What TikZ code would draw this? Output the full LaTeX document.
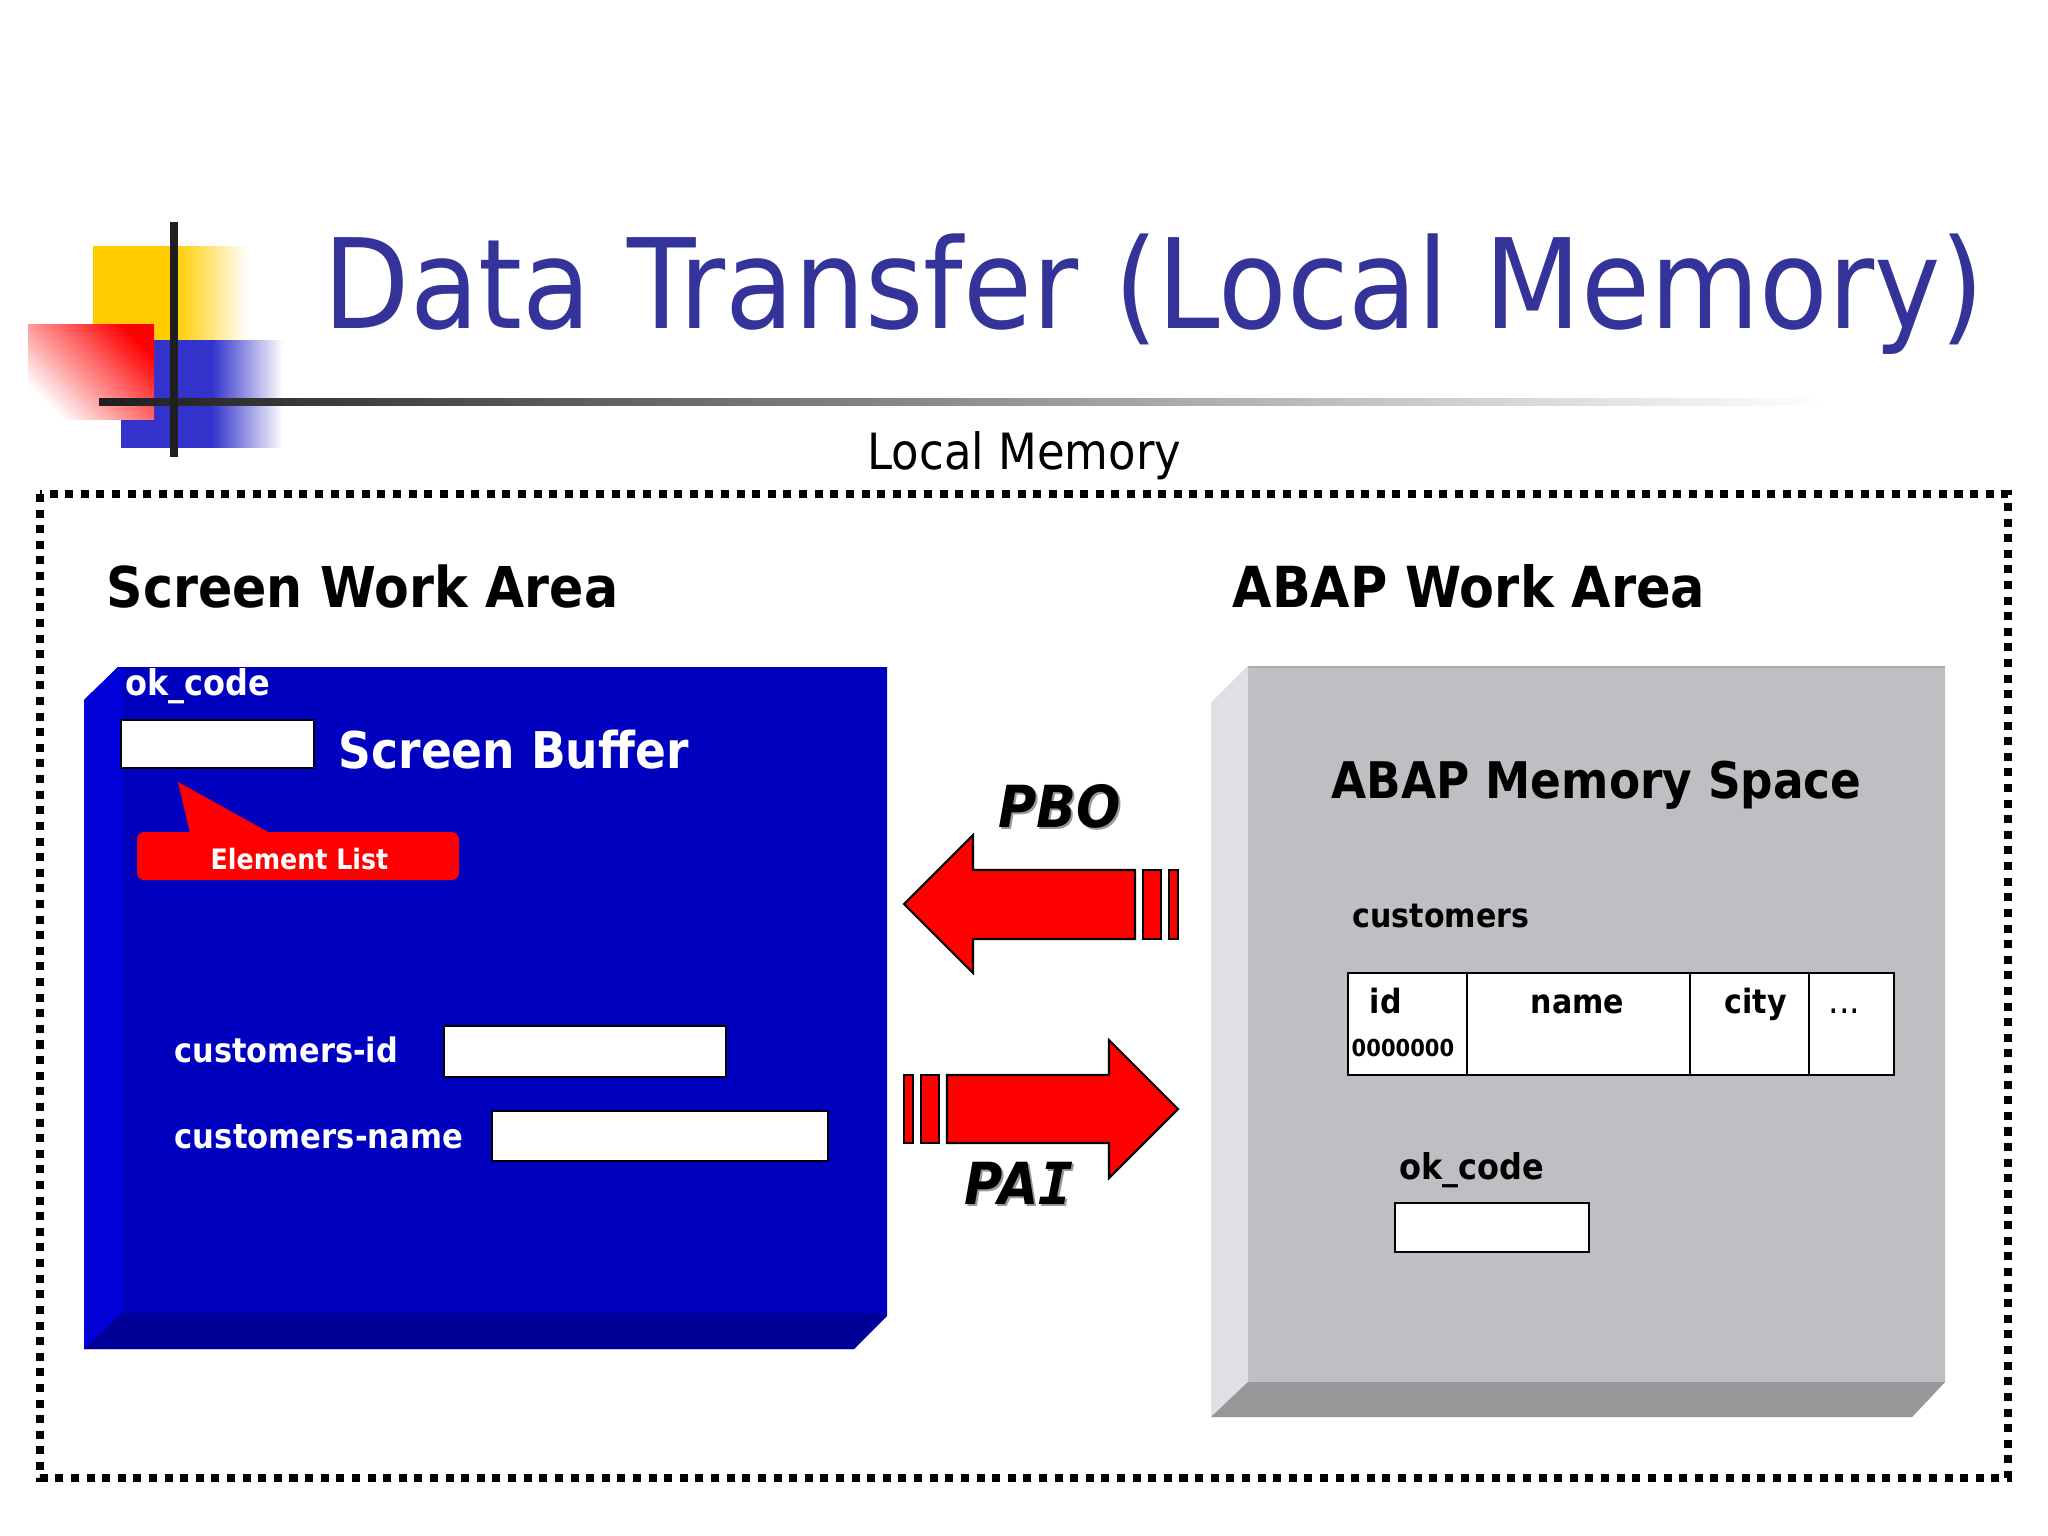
\documentclass[tikz,border=0pt]{standalone}
\usepackage{fontspec}
\setmainfont{DejaVu Sans}[FakeStretch=0.9]
\newfontfamily\serifmono{DejaVu Sans Mono}
\newcommand{\fsz}[1]{\fontsize{#1}{#1}\selectfont}
\definecolor{titleblue}{HTML}{333399}
\definecolor{logoblue}{HTML}{3333CC}
\definecolor{logoyellow}{HTML}{FFCC00}
\definecolor{bluefront}{HTML}{0000BF}
\definecolor{blueleft}{HTML}{0000D9}
\definecolor{bluebottom}{HTML}{000099}
\definecolor{greyfront}{HTML}{C0BEC2}
\definecolor{greyleft}{HTML}{E1DFE3}
\definecolor{greybottom}{HTML}{989699}
\pgfdeclarehorizontalshading{yellowfade}{100bp}{color(0bp)=(logoyellow); color(51.5bp)=(logoyellow); color(75bp)=(white); color(100bp)=(white)}
\pgfdeclarehorizontalshading{bluefade}{100bp}{color(0bp)=(logoblue); color(53bp)=(logoblue); color(75bp)=(white); color(100bp)=(white)}
\tikzset{
    txt/.style={anchor=base west,inner sep=0pt,font=\bfseries\fsz{#1}},
    plaintxt/.style={anchor=base west,inner sep=0pt,font=\fsz{#1}},
    field/.style={draw=black,fill=white,line width=0.8pt},
    redarrow/.style={draw=black,fill=red,line width=0.6pt,line join=miter},
    bigtxt/.style={anchor=base west,inner sep=0pt,font=\bfseries\itshape\fsz{16.5}},
}

\begin{document}
\begin{tikzpicture}[x=0.01cm,y=-0.01cm]
    \useasboundingbox (0,0) rectangle (2048,1536);
    % logo
    \shade[shading=yellowfade] (93,246) rectangle (248,340);
    \shade[shading=bluefade] (121,340) rectangle (283,447);
    \fill[top color=red,bottom color=white,shading angle=-45] (28,324) rectangle (154,419);
    \fill[left color=black!88,right color=white] (99,398.5) rectangle (1825,405.5);
    \fill[black!88] (170,222) rectangle (178,457);
    \node[plaintxt=35.45,text=titleblue] (title) at (323,328) {Data Transfer (Local Memory)};
    \node[plaintxt=14.2] (local) at (867,469) {Local Memory};
    \draw[line width=2.28pt,dash pattern=on 2.28pt off 2.16pt] (40,494) rectangle (2008,1478);
    \node[txt=16] (screenarea) at (106,607) {Screen Work Area};
    \node[txt=16.1] (abaparea) at (1232,607) {ABAP Work Area};
    % screen side
    \fill[bluefront] (118,667) -- (887,667) -- (887,1316) -- (854,1349) -- (84,1349) -- (84,700) -- cycle;
    \fill[blueleft] (118,667) -- (122,667) -- (122,1316) -- (84,1349) -- (84,700) -- cycle;
    \fill[bluebottom] (122,1313) -- (887,1313) -- (854,1349) -- (84,1349) -- cycle;
    \node[txt=10.1,text=white] (okblue) at (125,695) {ok\_code};
    \draw[field] (121,720) rectangle (314,768);
    \node[txt=14.4,text=white] (buffer) at (338,768) {Screen Buffer};
    \fill[red,rounded corners=2pt] (137,832) rectangle (459,880);
    \fill[red] (178,782) -- (190,833) -- (270,833) -- cycle;
    \node[txt=8,text=white] (elements) at (210,869) {Element List};
    \node[txt=9.6,text=white] (custid) at (174,1062) {customers-id};
    \draw[field] (444,1026) rectangle (726,1077);
    \node[txt=9.7,text=white] (custname) at (174,1148) {customers-name};
    \draw[field] (492,1111) rectangle (828,1161);
    % arrows
    \draw[redarrow] (904,904) -- (973,835) -- (973,870) -- (1135,870) -- (1135,939) -- (973,939) -- (973,973) -- cycle;
    \draw[redarrow] (1143,870) rectangle (1161,939);
    \draw[redarrow] (1169,870) rectangle (1178,939);
    \draw[redarrow] (1178,1109) -- (1109,1040) -- (1109,1075) -- (947,1075) -- (947,1143) -- (1109,1143) -- (1109,1178) -- cycle;
    \draw[redarrow] (921,1075) rectangle (939,1143);
    \draw[redarrow] (904,1075) rectangle (913,1143);
    \node[bigtxt,text=black!40] (pboshadow) at (1000,829) {PBO};
    \node[bigtxt,text=black!40] (paishadow) at (966,1206) {PA{\serifmono I}};
    \node[bigtxt] (pbo) at (998,827) {PBO};
    \node[bigtxt] (pai) at (964,1204) {PA{\serifmono I}};
    % abap side
    \fill[greyfront] (1248,666) -- (1945,666) -- (1945,1382) -- (1912,1417) -- (1211,1417) -- (1211,703) -- cycle;
    \fill[greyleft] (1248,666) -- (1248,1382) -- (1211,1417) -- (1211,703) -- cycle;
    \fill[greybottom] (1248,1382) -- (1945,1382) -- (1912,1417) -- (1211,1417) -- cycle;
    \fill[black!32] (1248,665.5) rectangle (1945,668);
    \node[txt=14.35] (space) at (1331,798) {ABAP Memory Space};
    \node[txt=9.5] (custlabel) at (1352,927) {customers};
    \foreach \xa/\xb in {1348/1467,1467/1690,1690/1809,1809/1894}
        \draw[field] (\xa,973) rectangle (\xb,1075);
    \node[txt=9.5] (idcol) at (1369,1013) {id};
    \node[txt=9.5] (namecol) at (1530,1013) {name};
    \node[txt=9.5] (citycol) at (1724,1013) {city};
    \node[plaintxt=10.5] (morecol) at (1828,1013) {...};
    \node[txt=6.65] (idval) at (1351,1056) {0000000};
    \node[txt=10.1] (okgrey) at (1399,1179) {ok\_code};
    \draw[field] (1395,1203) rectangle (1589,1252);
\end{tikzpicture}
\end{document}
